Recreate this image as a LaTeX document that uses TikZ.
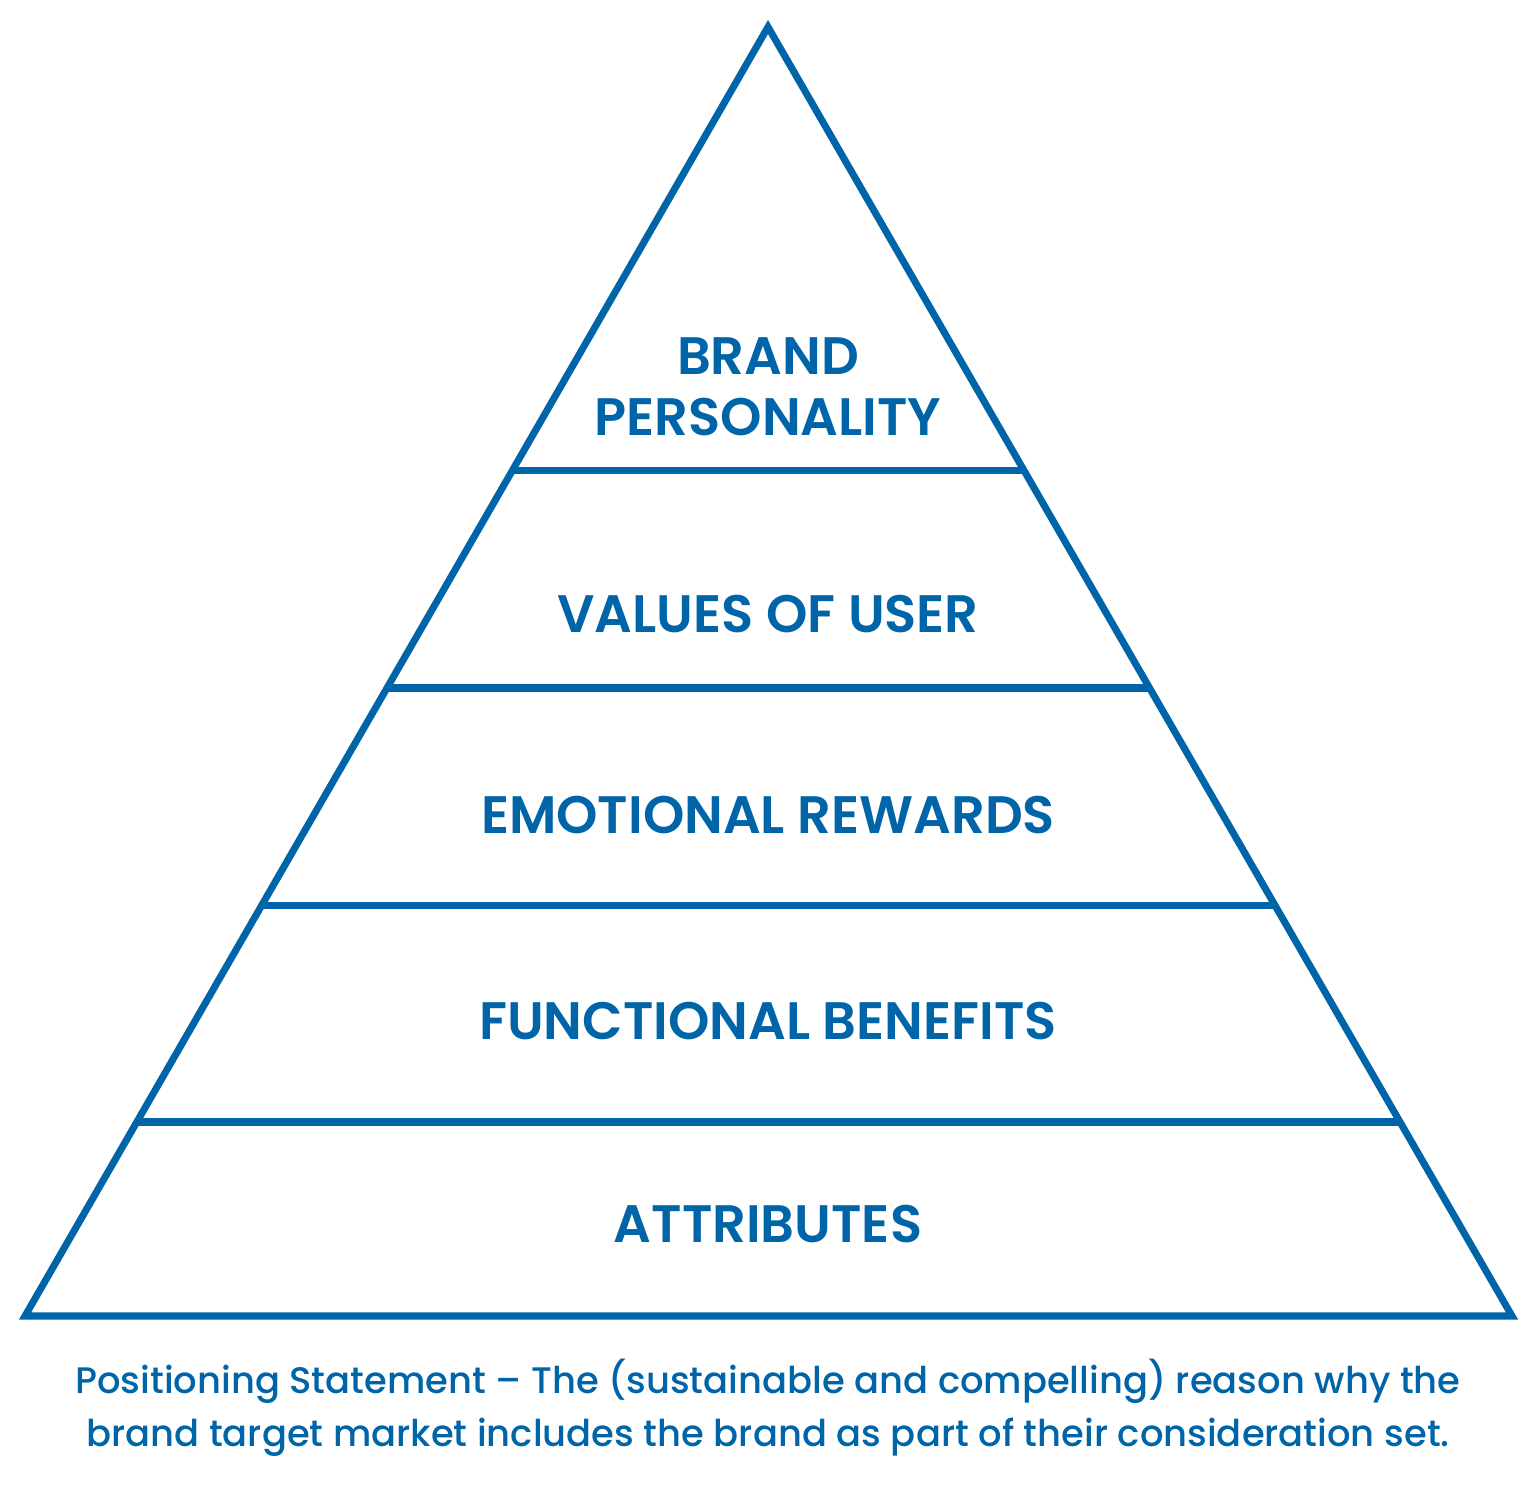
\documentclass[tikz,border=0pt]{standalone}
\usepackage{fontspec}
\setmainfont{Poppins}[BoldFont={Poppins SemiBold}]
\newfontfamily\medfont{Poppins Medium}[Ligatures=TeX]
\usetikzlibrary{calc}
\definecolor{pyrblue}{RGB}{0,100,168}
\tikzset{
  layer/.style={pyrblue,font=\fontsize{15}{18}\selectfont\bfseries,anchor=base,inner sep=0pt},
  edge/.style={draw=pyrblue,line width=2pt,line join=miter}
}
\begin{document}
\begin{tikzpicture}
\useasboundingbox (0,0) rectangle (15.36,14.92);
\coordinate (top) at (7.68,14.65);
\coordinate (bl) at (0.25,1.76);
\coordinate (br) at (15.12,1.76);
\draw[edge] (top) -- (bl) -- (br) -- cycle;
\foreach \t/\n in {0.3437/a,0.5128/b,0.6812/c,0.8495/d}{
  \coordinate (l\n) at ($(top)!\t!(bl)$);
  \coordinate (r\n) at ($(top)!\t!(br)$);
  \draw[edge] (l\n) -- (r\n);
}
\node[layer] (brand) at (7.68,11.17) {BRAND};
\node[layer] (pers) at (7.68,10.56) {PERSONALITY};
\node[layer] (values) at (7.68,8.59) {VALUES OF USER};
\node[layer] (emo) at (7.68,6.58) {EMOTIONAL REWARDS};
\node[layer] (func) at (7.68,4.53) {FUNCTIONAL BENEFITS};
\node[layer] (attr) at (7.68,2.50) {ATTRIBUTES};
\node[pyrblue,font=\medfont\fontsize{10.5}{15.1}\selectfont,align=center,inner sep=0pt] (stmt) at (7.68,0.84)
  {Positioning Statement – The (sustainable and compelling) reason why the\\
   brand target market includes the brand as part of their consideration set.};
\end{tikzpicture}
\end{document}
